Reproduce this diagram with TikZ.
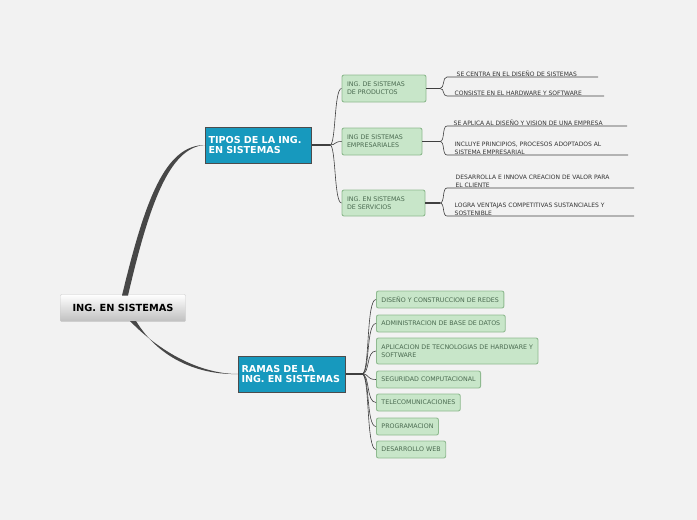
\documentclass[tikz,border=0pt]{standalone}
\usepackage{fontspec}
\setmainfont{DejaVu Sans}
\begin{document}
\begin{tikzpicture}[x=1pt,y=-1pt,
  blue/.style={draw=black!70,fill=bluec,text=white,font=\bfseries\fontsize{9.6}{10.6}\selectfont,align=left,inner xsep=3pt,line width=0.8pt,text width=100pt},
  green/.style={draw=greenb,fill=greenc,text=greent,font=\fontsize{6.3}{8}\selectfont,align=left,rounded corners=2pt,line width=0.9pt,inner xsep=5pt,inner ysep=4pt},
  leaf/.style={font=\fontsize{6}{7.6}\selectfont,text=black!80,align=left,anchor=south west,inner sep=1.5pt},
  con/.style={draw=black!75,line width=0.6pt},
  thick/.style={draw=black!75,line width=1.4pt}]
\definecolor{bluec}{HTML}{1799BE}
\definecolor{greenc}{HTML}{C8E6C9}
\definecolor{greenb}{HTML}{8FBA90}
\definecolor{greent}{HTML}{4A6A50}
\fill[black!5] (0,0) rectangle (697,520);
\useasboundingbox (0,0) rectangle (697,520);
% root
\node[draw=black!20,top color=white,bottom color=black!25,minimum width=125pt,minimum height=27pt,font=\bfseries\fontsize{9.8}{11}\selectfont,rounded corners=1pt] (root) at (123,308) {ING. EN SISTEMAS};
\node[blue,minimum height=36pt] (tipos) at (258.5,145) {TIPOS DE LA ING.\\EN SISTEMAS};
\node[blue,minimum height=36pt,text width=101pt] (ramas) at (292,374) {RAMAS DE LA\\ING. EN SISTEMAS};
% tapered root connectors
\fill[black!72] (122,295.5) .. controls (145,200) and (165,145) .. (tipos.west) .. controls (168,147) and (148,210) .. (128,295.5) -- cycle;
\fill[black!72] (130,321) .. controls (160,352) and (200,374) .. (ramas.west) .. controls (200,375) and (160,360) .. (136,321) -- cycle;
% tipos children
\node[green,text width=74pt,minimum height=27pt] (p) at (384,88.5) {ING. DE SISTEMAS\\DE PRODUCTOS};
\node[green,text width=70pt,minimum height=27pt] (e) at (382,141.5) {ING DE SISTEMAS\\EMPRESARIALES};
\node[green,text width=73pt,minimum height=26pt] (s) at (383.5,203) {ING. EN SISTEMAS\\DE SERVICIOS};
\coordinate (tj) at (330,145);
\draw[thick] (tipos.east) -- (tj);
\foreach \c in {p,e,s}{\draw[con] (tj) .. controls (336,145) and (334,0|-\c.west) .. (\c.west);}
% leaves
\newcommand{\leafpair}[8]{%
  \coordinate (#1j) at (440,0|-#1.east);
  \draw[thick] (#1.east) -- (#1j);
  \coordinate (#1a) at (447,#2); \coordinate (#1ae) at (#3,#2);
  \coordinate (#1b) at (447,#4); \coordinate (#1be) at (#5,#4);
  \draw[con] (#1j) .. controls (445,0|-#1j) and (442,#2) .. (#1a) -- (#1ae);
  \draw[con] (#1j) .. controls (445,0|-#1j) and (442,#4) .. (#1b) -- (#1be);
  \node[leaf] (#1at) at ([yshift=-1pt]#1a) {#6};
  \node[leaf] (#1bt) at ([xshift=6pt,yshift=-1pt]#1b) {#7};
}
\leafpair{p}{77}{598}{96}{604}{\hspace{8pt}SE CENTRA EN EL DISEÑO DE SISTEMAS}{CONSISTE EN EL HARDWARE Y SOFTWARE}{}
\leafpair{e}{126}{627}{155}{628}{\hspace{5pt}SE APLICA AL DISEÑO Y VISION DE UNA EMPRESA}{INCLUYE PRINCIPIOS, PROCESOS ADOPTADOS AL\\SISTEMA EMPRESARIAL}{}
\leafpair{s}{188}{634}{216}{634}{\hspace{7pt}DESARROLLA E INNOVA CREACION DE VALOR PARA\\\hspace{7pt}EL CLIENTE}{LOGRA VENTAJAS COMPETITIVAS SUSTANCIALES Y\\SOSTENIBLE}{}
% ramas children
\tikzset{rg/.style={green,anchor=west,inner ysep=3pt,minimum height=17pt,font=\fontsize{6.3}{7.6}\selectfont}}
\node[rg] (r1) at (376,299.5) {DISEÑO Y CONSTRUCCION DE REDES};
\node[rg] (r2) at (376,323.5) {ADMINISTRACION DE BASE DE DATOS};
\node[rg,minimum height=26pt] (r3) at (376,351) {APLICACION DE TECNOLOGIAS DE HARDWARE Y\\SOFTWARE};
\node[rg] (r4) at (376,379.5) {SEGURIDAD COMPUTACIONAL};
\node[rg] (r5) at (376,402.5) {TELECOMUNICACIONES};
\node[rg] (r6) at (376,426.5) {PROGRAMACION};
\node[rg] (r7) at (376,449.5) {DESARROLLO WEB};
\coordinate (rj) at (362,374);
\draw[thick] (ramas.east) -- (rj);
\foreach \c in {r1,r2,r3,r4,r5,r6,r7}{\draw[con] (rj) .. controls (370,374) and (366,0|-\c.west) .. (\c.west);}
\end{tikzpicture}
\end{document}
